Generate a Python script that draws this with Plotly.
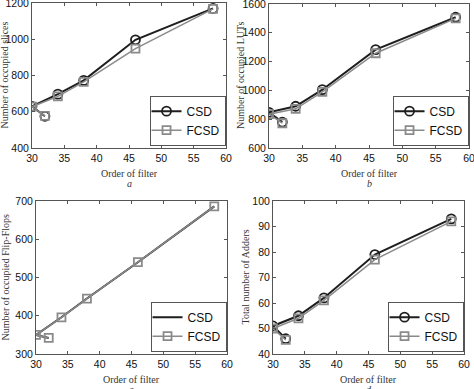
import plotly.graph_objects as go

order = [32, 30, 34, 38, 46, 58]

slices_csd = [575, 630, 697, 773, 997, 1170]
slices_fcsd = [577, 628, 685, 765, 948, 1168]

luts_csd = [780, 848, 890, 1005, 1283, 1508]
luts_fcsd = [772, 835, 872, 990, 1258, 1500]

ff_csd = [342, 350, 396, 445, 540, 686]
ff_fcsd = [342, 350, 396, 445, 540, 686]

adders_csd = [46, 51, 55, 62, 79, 93]
adders_fcsd = [45.5, 50, 54, 61, 77, 92]

y_titles = ["Number of occupied slices", "Number of occupied LUTs",
            "Number of occupied Flip-Flops", "Total number of Adders"]
sub_labels = ["a", "b", "c", "d"]
y_ranges = [[400, 1200], [600, 1600], [300, 700], [40, 100]]
y_dticks = [200, 200, 100, 10]

W, H = 474, 389
# pixel boxes: left, right, top, bottom
boxes = [(32, 226, 3, 148), (269, 469, 4, 148), (36, 227, 201, 354), (273, 464, 201, 354)]

fig = go.Figure()
panels = [(slices_csd, slices_fcsd, True), (luts_csd, luts_fcsd, True),
          (ff_csd, ff_fcsd, False), (adders_csd, adders_fcsd, True)]

dark = "#1e1e1e"
grey = "#8a8a8a"
sans = "Liberation Sans, Arial"
tickfont = dict(family=sans, size=10.5, color="#111")
serif = "Liberation Serif, Times New Roman"

for i, (csd, fcsd, csd_marker) in enumerate(panels):
    n = "" if i == 0 else str(i + 1)
    leg = "legend" if i == 0 else f"legend{i+1}"
    fig.add_trace(go.Scatter(
        x=order, y=csd, mode="lines+markers" if csd_marker else "lines",
        name="CSD", line=dict(color=dark, width=2),
        marker=dict(symbol="circle-open", size=9, color=dark, line=dict(width=1.8)),
        xaxis="x" + n, yaxis="y" + n, legend=leg))
    fig.add_trace(go.Scatter(
        x=order, y=fcsd, mode="lines+markers",
        name="FCSD", line=dict(color=grey, width=1.5),
        marker=dict(symbol="square-open", size=8, color=grey, line=dict(width=1.8)),
        xaxis="x" + n, yaxis="y" + n, legend=leg))

    l, r, t, b = boxes[i]
    xd = [l / W, r / W]
    yd = [1 - b / H, 1 - t / H]
    axcommon = dict(showgrid=False, zeroline=False, showline=True, linecolor="#555",
                    linewidth=1, mirror="ticks", ticks="inside", ticklen=3,
                    tickcolor="#555", tickfont=tickfont, automargin=False,
                    ticklabeloverflow="allow")
    fig.update_layout(**{
        "xaxis" + n: dict(domain=xd, range=[30, 60], dtick=5, anchor="y" + n, **axcommon),
        "yaxis" + n: dict(domain=yd, range=y_ranges[i], dtick=y_dticks[i], anchor="x" + n, **axcommon),
        leg: dict(x=xd[1] - 0.001, y=yd[0] + 0.006, xanchor="right", yanchor="bottom",
                  bordercolor="#555", borderwidth=1, bgcolor="white",
                  font=dict(family=sans, size=12, color="#111"),
                  tracegroupgap=0, itemwidth=30, indentation=-4),
    })
    cx = (l + r) / 2 / W
    fig.add_annotation(text="Order of filter", x=cx, y=1 - (b + 25) / H, xref="paper", yref="paper",
                       xanchor="center", yanchor="middle",
                       showarrow=False, font=dict(family=serif, size=10, color="#333"))
    fig.add_annotation(text="<i>" + sub_labels[i] + "</i>", x=cx, y=1 - (b + 35) / H,
                       xref="paper", yref="paper", showarrow=False,
                       xanchor="center", yanchor="middle",
                       font=dict(family=serif, size=10, color="#333"))
    tx = (l - 28) / W if i != 2 else (l - 31) / W
    fig.add_annotation(text=y_titles[i], x=tx, y=1 - (t + b) / 2 / H, xref="paper", yref="paper",
                       textangle=-90, showarrow=False, xanchor="center", yanchor="middle",
                       font=dict(family=serif, size=10, color="#333"))

fig.update_layout(width=W, height=H, margin=dict(l=0, r=0, t=0, b=0, autoexpand=False),
                  plot_bgcolor="white", paper_bgcolor="white", showlegend=True)
fig.write_html("out.html", config={"displayModeBar": False},
               post_script="document.body.style.margin='0';document.body.style.padding='0';")
